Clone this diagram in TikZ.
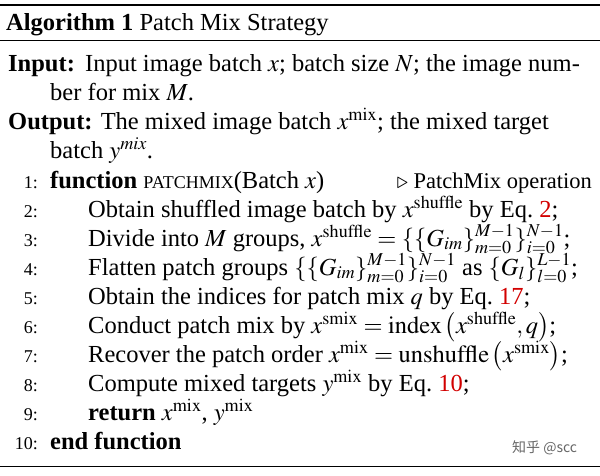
\documentclass[tikz,border=0pt]{standalone}
\usepackage{mathptmx}
\usepackage{fontspec}
\setmainfont{Liberation Serif}
\newfontfamily\cjk{Noto Sans CJK SC}
\definecolor{refred}{RGB}{210,0,0}
\newcommand{\rf}[1]{\textcolor{refred}{#1}}
\begin{document}
\begin{tikzpicture}[x=1pt,y=-1pt,
  ln/.style={anchor=base east,inner sep=0,font=\fontsize{18}{20}\selectfont},
  tx/.style={anchor=base west,inner sep=0,font=\fontsize{24.5}{28}\selectfont}]
\useasboundingbox (0,0) rectangle (600,475);
\draw[line width=1.3] (0,5) -- (600,5);
\draw[line width=0.7] (0,40) -- (600,40);
\draw[line width=0.7] (0,466) -- (600,466);
\node[tx] (t) at (6,30) {\textbf{Algorithm 1} Patch Mix Strategy};
\node[tx] (i1) at (8,71) {\textbf{Input:}\ \,Input image batch $x$; batch size $N$; the image num-};
\node[tx] (i2) at (50,100) {ber for mix $M$.};
\node[tx] (o1) at (8,129) {\textbf{Output:} The mixed image batch $x^{\rm mix}$; the mixed target};
\node[tx] (o2) at (50,158) {batch $y^{mix}$.};
\foreach \n/\y in {1/188,2/217,3/246,4/275,5/304,6/333,7/362,8/391,9/420,10/449}
  \node[ln] (n\n) at (38,\y) {\n:};
\node[tx] (l1) at (50,188) {\textbf{function} {\fontsize{18}{20}\selectfont PATCHMIX}(Batch $x$)};
\node[tx,anchor=base east,font=\fontsize{22.5}{26}\selectfont] (c1) at (592,188) {$\triangleright$ PatchMix operation};
\node[tx] (l2) at (88,217) {Obtain shuffled image batch by $x^{\rm shuffle}$ by Eq.~\rf{2};};
\node[tx] (l3) at (88,246) {Divide into $M$ groups, $x^{\rm shuffle}=\{\{G_{im}\}_{m=0}^{M-1}\}_{i=0}^{N-1}$;};
\node[tx] (l4) at (88,275) {Flatten patch groups $\{\{G_{im}\}_{m=0}^{M-1}\}_{i=0}^{N-1}$ as $\{G_l\}_{l=0}^{L-1}$;};
\node[tx] (l5) at (88,304) {Obtain the indices for patch mix $q$ by Eq.~\rf{17};};
\node[tx] (l6) at (88,333) {Conduct patch mix by $x^{\rm smix}={\rm index}\left(x^{\rm shuffle},q\right)$;};
\node[tx] (l7) at (88,362) {Recover the patch order $x^{\rm mix}={\rm unshuffle}\left(x^{\rm smix}\right)$;};
\node[tx] (l8) at (88,391) {Compute mixed targets $y^{\rm mix}$ by Eq.~\rf{10};};
\node[tx] (l9) at (88,420) {\textbf{return} $x^{\rm mix}$, $y^{\rm mix}$};
\node[tx] (l10) at (50,449) {\textbf{end function}};
\node[anchor=base west,inner sep=0,text=black!60,font=\cjk\fontsize{14}{16}\selectfont] (wm) at (512,452) {知乎 @scc};
\end{tikzpicture}
\end{document}
